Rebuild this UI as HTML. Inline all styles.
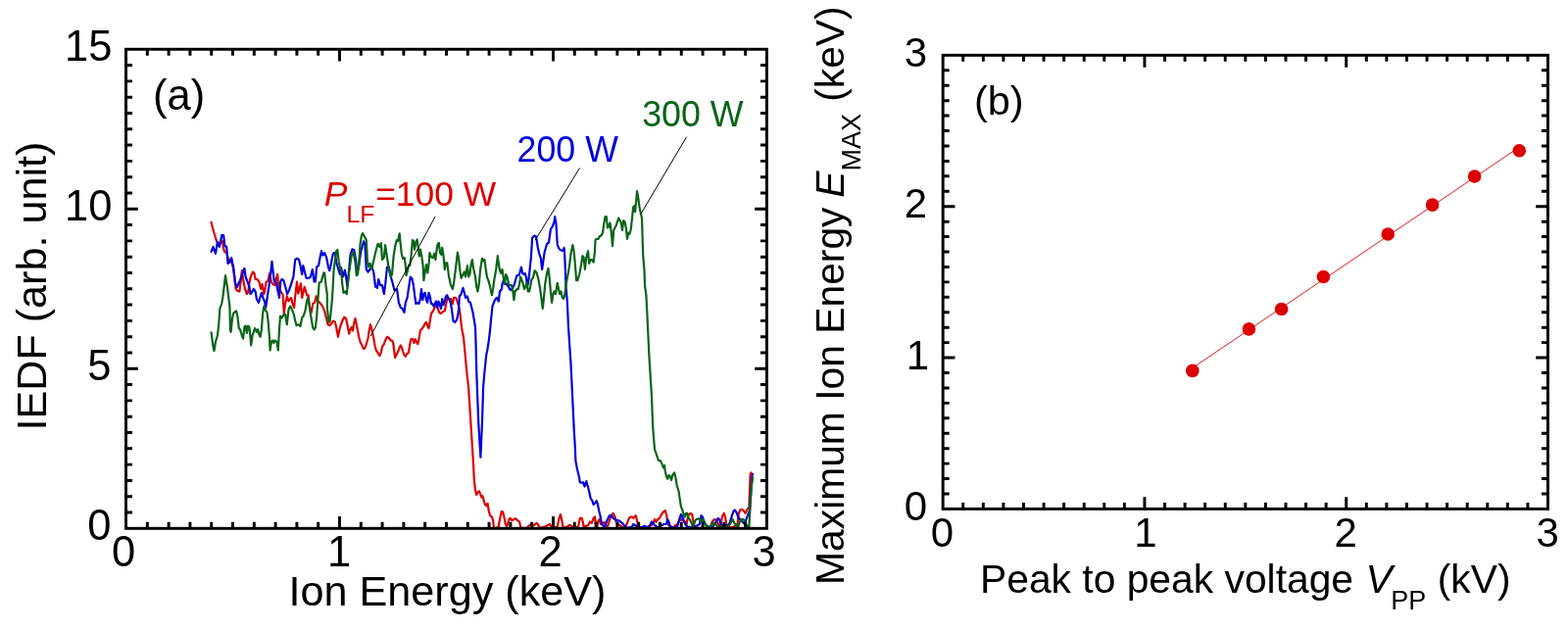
<!DOCTYPE html>
<html><head><meta charset="utf-8"><title>IEDF and maximum ion energy</title>
<style>
html,body{margin:0;padding:0;background:#fff;}
svg{display:block;}
text{font-family:"Liberation Sans",Arial,Helvetica,sans-serif;}
</style></head><body>
<svg width="1600" height="644" viewBox="0 0 1600 644">
<rect width="1600" height="644" fill="#fff"/>
<g fill="none" stroke-width="2.2" stroke-linejoin="round" stroke-linecap="round">
<path stroke="#dc0000" d="M215.6 226.9 216.9 232.5 218.8 238.8 220.6 245.0 222.5 248.8 225.0 246.9 226.9 246.2 228.1 253.8 229.4 257.5 231.2 257.5 232.5 262.5 234.4 266.2 236.2 267.5 238.1 273.8 239.4 283.8 240.6 295.0 242.5 296.9 244.4 297.5 245.6 287.5 246.9 276.2 248.1 285.0 250.0 295.0 251.9 300.0 253.1 298.8 254.4 288.8 256.2 281.2 258.1 277.5 259.4 278.8 260.6 285.0 262.5 285.0 264.4 287.5 266.2 295.0 267.5 290.0 269.4 300.0 270.0 297.8 271.7 287.6 273.4 286.7 275.1 279.0 276.8 287.6 278.5 290.1 280.2 291.0 283.2 279.9 283.8 288.5 285.1 295.4 286.8 297.9 288.5 300.5 289.8 319.3 291.1 309.9 292.8 302.2 294.5 307.3 297.1 303.9 298.3 309.0 300.1 314.1 301.3 301.3 303.0 287.7 304.3 299.6 305.6 294.5 306.9 289.4 308.2 303.9 309.4 298.8 310.7 292.8 312.0 297.1 313.3 301.3 314.6 301.3 315.8 312.4 317.6 319.3 319.3 309.9 321.0 309.0 322.7 302.2 324.0 307.3 325.7 308.2 327.8 310.7 329.5 313.3 331.2 317.6 332.9 324.4 334.6 331.2 336.3 332.1 338.0 330.4 339.7 327.8 340.6 327.5 341.9 328.8 343.1 333.8 345.0 343.8 346.2 337.5 347.5 332.5 349.4 327.5 351.2 323.8 353.1 325.0 354.4 331.2 356.2 340.6 357.5 336.2 358.8 333.8 360.0 337.5 361.2 330.0 362.5 325.0 363.8 331.2 365.0 337.5 366.2 343.8 367.5 348.8 369.4 352.5 371.2 356.2 372.5 355.0 373.8 351.2 375.6 345.0 376.9 336.2 378.1 331.2 379.4 336.2 381.2 345.0 382.5 352.5 383.8 357.5 385.6 360.0 387.5 363.1 388.8 360.0 390.0 353.8 391.9 351.2 393.1 347.5 395.0 343.8 396.9 345.0 398.8 347.5 400.0 347.5 401.2 350.0 402.5 360.0 403.1 365.0 406.2 358.8 407.5 355.0 408.8 352.5 410.0 355.0 411.2 358.8 412.5 362.5 413.8 363.8 415.0 361.2 416.9 360.0 418.1 352.5 419.4 346.2 421.2 346.2 422.5 350.0 423.8 346.2 425.0 348.8 426.2 351.2 427.5 346.2 428.8 337.5 430.0 336.2 431.9 333.8 433.8 330.0 435.0 328.8 436.2 332.5 437.5 335.0 438.8 327.5 440.0 320.0 441.9 317.5 443.1 315.0 444.4 310.0 445.6 312.5 446.9 315.0 448.1 318.8 449.4 320.0 451.2 318.8 452.5 317.5 453.8 317.5 455.0 311.2 456.2 305.0 457.5 303.8 458.8 306.2 460.0 305.0 461.9 310.0 463.1 303.8 465.0 303.8 466.2 306.2 468.8 315.0 470.0 325.0 471.2 335.0 473.1 345.0 474.4 358.8 475.6 372.5 476.9 385.0 478.1 395.0 483.1 475.0 483.8 490.0 485.0 500.0 486.2 505.0 487.5 502.5 488.8 501.2 490.0 503.8 491.2 507.5 492.5 506.2 493.8 511.2 495.0 515.0 496.2 516.2 497.5 513.8 498.8 521.2 500.0 526.2 501.9 527.5 503.1 531.2 503.8 537.5 505.0 539.0 506.2 538.8 508.8 537.5 510.0 530.0 511.9 521.9 513.1 522.5 514.4 527.5 515.6 533.8 516.9 537.5 518.1 535.0 519.4 530.0 520.6 528.8 522.5 531.2 524.4 530.0 526.2 529.4 528.1 531.2 530.0 532.5 531.2 537.5 532.5 538.8 537.5 538.8 540.0 536.2 542.5 535.0 545.0 536.2 547.5 533.8 548.8 535.0 550.0 537.5 551.2 538.8 556.2 537.5 558.8 536.2 561.2 535.0 562.5 537.5 565.0 538.8 568.8 537.5 570.6 528.8 571.9 525.0 573.1 530.0 574.4 537.5 576.2 538.8 578.8 537.5 580.6 536.2 582.5 536.2 583.8 537.5 585.0 538.8 590.0 537.5 591.9 528.8 593.8 528.8 595.0 533.8 595.6 537.5 597.5 536.9 600.0 536.2 601.9 532.5 603.8 533.8 605.6 528.8 606.9 527.5 608.1 536.2 609.4 537.5 610.6 531.2 611.9 530.0 613.1 535.0 615.0 533.8 616.9 533.1 618.1 536.2 620.0 537.5 621.9 531.2 623.8 526.2 625.6 523.8 627.5 527.5 628.8 532.5 630.6 535.0 632.5 536.2 634.4 537.5 636.2 538.8 638.1 537.5 640.0 533.8 641.9 528.8 643.8 527.5 645.0 527.5 646.2 528.8 647.5 527.5 648.8 526.2 650.0 531.2 651.2 537.5 653.8 538.8 660.0 538.5 666.2 535.0 668.1 530.0 669.4 532.5 671.2 530.0 673.1 528.8 675.0 525.0 676.9 522.5 678.8 521.2 680.0 525.0 681.2 532.5 682.5 536.2 685.0 537.5 687.5 538.8 688.8 536.2 690.6 536.2 692.5 532.5 695.0 530.0 696.9 531.2 698.8 532.5 700.6 535.0 701.9 527.5 703.1 525.0 704.4 523.8 706.2 525.0 707.5 532.5 708.8 537.5 712.5 538.8 720.0 538.5 725.0 537.5 726.2 533.8 727.5 531.2 729.4 530.0 731.2 531.2 732.5 533.8 733.8 537.5 735.0 536.2 736.9 527.5 738.8 523.8 740.0 527.5 741.2 535.0 743.1 537.5 747.5 538.5 752.5 535.0 753.8 523.8 755.6 520.0 757.5 520.0 758.8 521.2 760.6 523.8 762.5 520.0 764.4 517.5 765.6 483.8 766.5 482.5"/>
<path stroke="#0000dc" d="M215.6 256.9 217.5 251.9 220.0 258.8 221.9 246.9 223.8 251.9 225.0 247.5 226.2 240.0 228.1 240.0 229.4 251.2 231.2 251.9 232.5 268.8 234.4 267.5 236.2 263.1 238.1 272.5 240.0 288.8 241.9 293.1 243.1 290.0 245.0 286.2 247.5 278.8 249.4 273.8 250.6 282.5 252.5 287.5 254.4 292.5 255.6 300.0 257.5 297.5 258.8 295.0 260.6 297.5 261.9 305.0 263.8 308.8 265.0 305.0 266.9 298.8 268.8 305.0 270.0 307.5 271.2 313.8 272.5 305.0 273.8 296.2 274.4 292.5 276.2 278.8 277.5 266.9 278.8 278.8 280.0 287.5 281.9 288.8 283.1 295.0 285.0 303.8 286.2 287.5 287.5 285.0 289.4 286.2 291.2 292.5 293.1 300.0 295.0 296.2 297.5 288.8 299.4 282.5 301.2 265.0 303.1 263.8 305.0 265.0 306.9 272.5 308.1 280.0 309.4 271.2 311.2 278.8 312.5 283.8 315.0 283.8 316.9 282.5 318.8 275.0 320.6 287.5 321.9 287.5 323.1 272.5 325.0 271.2 326.9 261.2 328.1 256.2 329.4 260.6 331.2 258.1 333.1 262.5 335.0 272.5 336.2 276.2 337.5 271.2 339.4 260.6 340.6 258.1 341.9 258.1 343.1 267.5 345.0 273.8 346.9 280.0 348.1 273.1 350.0 282.5 351.9 275.6 353.1 282.5 354.4 292.5 355.6 281.2 357.5 260.0 359.4 254.4 361.2 255.0 363.1 265.0 364.4 278.8 366.2 271.2 368.1 257.5 370.0 250.0 371.2 246.2 372.5 250.0 373.8 275.0 375.6 277.5 377.5 275.0 379.4 272.5 381.2 277.5 383.1 292.5 385.0 293.8 386.2 285.0 388.1 291.2 390.0 291.2 391.9 300.0 393.1 291.2 395.0 272.5 396.9 272.5 398.8 282.5 400.6 288.8 402.5 296.2 405.0 295.0 405.6 298.8 406.9 308.8 408.8 313.8 410.6 315.0 412.5 318.8 413.8 308.8 415.6 303.8 416.9 295.0 418.8 282.5 420.6 285.0 421.9 291.2 423.1 301.2 424.4 310.0 426.2 308.8 427.5 310.0 428.8 305.0 430.0 295.0 431.2 306.2 432.5 300.0 433.8 298.8 435.0 306.2 436.2 308.8 437.5 298.8 438.8 302.5 440.0 310.0 441.2 310.0 442.5 312.5 443.8 310.0 445.0 307.5 446.2 313.8 447.5 307.5 448.8 311.2 450.0 315.0 451.2 305.0 452.5 311.2 453.8 307.5 455.0 302.5 456.2 301.2 457.5 305.0 458.8 306.2 460.0 310.0 461.2 317.5 462.5 327.5 464.4 328.8 466.2 326.2 467.5 320.0 468.1 315.0 468.8 302.5 470.6 300.0 472.5 293.8 473.8 298.8 475.0 303.8 476.9 302.5 478.1 307.5 480.0 308.8 481.2 313.8 482.5 318.8 483.1 322.5 485.0 333.8 485.6 352.5 486.2 377.5 488.2 431.0 490.4 466.6 492.0 431.0 493.1 395.0 494.4 380.0 496.2 362.5 497.5 356.2 498.8 347.5 500.0 337.5 501.2 325.0 502.5 312.5 505.0 306.2 506.9 303.8 508.8 307.5 510.0 297.5 511.9 295.0 512.5 290.0 513.8 286.2 515.0 288.8 516.9 290.0 518.8 292.5 520.0 295.0 521.2 296.2 523.1 293.8 525.0 290.0 526.2 285.0 527.5 281.2 529.4 281.2 530.6 277.5 531.9 272.5 533.1 278.8 534.4 280.0 535.6 278.8 536.9 282.5 538.1 292.5 539.4 286.2 540.6 275.0 541.9 262.5 543.1 243.0 545.0 240.6 546.9 241.2 548.1 247.5 548.8 252.5 550.0 258.0 551.9 263.8 553.1 275.0 554.4 266.2 555.6 257.5 556.9 253.0 558.1 248.8 560.0 247.5 561.9 233.8 563.8 231.2 565.6 226.2 566.2 221.2 567.5 228.8 568.8 250.0 570.6 254.0 572.5 255.5 574.4 256.0 575.6 253.0 576.2 260.0 576.9 276.2 577.5 292.5 578.8 307.5 580.0 333.8 581.2 352.5 582.5 371.2 585.8 440.0 586.8 456.3 587.4 470.4 589.0 479.1 591.2 487.8 591.7 492.2 593.4 492.7 595.0 492.2 596.6 496.5 598.3 491.1 599.9 496.5 601.5 503.0 602.6 508.5 604.4 511.2 605.6 515.0 606.9 513.8 608.8 511.2 610.0 515.0 611.2 521.2 612.5 526.2 613.8 533.8 615.0 536.2 616.9 537.5 618.1 535.0 619.4 531.2 620.6 528.8 621.9 526.2 623.8 526.2 625.6 528.8 627.5 530.0 629.4 531.2 631.2 531.2 633.1 532.5 635.0 533.8 636.9 536.2 638.8 538.1 641.9 538.5 645.0 537.5 646.2 535.0 648.1 536.2 650.0 537.5 652.5 538.5 655.0 538.1 657.5 536.9 659.4 537.5 661.9 538.1 663.8 535.0 665.0 532.5 666.2 533.8 668.1 536.2 670.0 537.5 672.5 538.1 675.0 536.2 677.5 535.0 680.0 535.0 681.2 530.0 682.5 532.5 683.8 537.5 687.5 538.5 691.2 537.5 693.1 530.0 695.0 525.0 696.9 528.8 698.1 532.5 700.0 536.2 701.9 537.5 707.5 538.5 713.8 535.0 715.6 526.2 716.9 527.5 718.8 533.8 720.6 536.2 722.5 537.5 725.0 538.5 727.5 537.5 730.0 533.8 731.2 531.2 733.1 528.8 734.4 531.2 735.6 535.0 737.5 536.9 740.0 536.2 742.5 536.2 743.8 535.0 745.0 532.5 746.9 526.2 748.8 521.2 750.0 520.6 751.9 523.8 753.1 527.5 755.0 530.0 757.5 532.5 760.0 535.0 761.9 528.8 763.8 523.8 765.0 521.2 766.2 502.5 767.5 485.0 768.1 483.8"/>
<path stroke="#0a6419" d="M215.6 339.4 217.5 353.8 218.5 358.1 220.0 348.8 221.9 342.5 223.1 332.5 224.4 315.0 226.2 310.0 227.5 302.5 230.0 281.2 231.9 292.5 233.1 302.5 234.4 312.5 235.0 337.5 235.6 338.8 236.9 326.2 238.1 320.0 240.0 318.1 241.2 317.5 242.5 323.8 243.8 335.0 245.0 336.2 246.9 342.5 248.1 345.6 249.4 333.8 250.6 332.5 251.9 340.0 253.1 332.5 254.4 333.8 255.6 345.0 256.2 352.5 257.5 342.5 258.8 338.8 260.0 335.0 261.9 338.8 263.1 336.2 264.4 341.2 265.6 343.8 266.9 336.2 268.1 320.0 269.4 312.5 270.6 316.2 272.5 318.8 273.8 330.0 275.0 345.0 275.6 357.5 276.9 348.8 278.1 347.5 279.4 350.0 280.6 347.5 282.5 348.8 283.8 357.5 285.1 334.6 286.0 322.7 287.7 324.4 289.4 321.0 291.1 321.0 292.8 331.2 294.5 315.8 296.2 312.4 297.9 315.8 299.6 320.1 301.3 327.8 302.6 332.1 304.8 331.2 306.5 332.9 308.2 324.4 309.9 321.8 311.6 316.7 312.9 308.2 314.1 303.9 315.4 309.9 316.7 319.3 318.4 329.5 319.3 334.6 320.5 336.3 321.8 334.6 323.1 324.4 324.4 305.6 325.7 288.5 327.8 287.7 329.5 280.9 330.4 278.3 331.2 278.8 332.5 291.2 333.8 300.0 333.8 314.1 335.5 328.6 336.7 327.8 338.9 305.6 339.7 292.8 340.6 275.0 341.9 266.2 343.1 256.2 344.4 255.0 345.6 266.2 346.9 272.5 348.1 277.5 349.4 291.2 350.6 298.8 352.5 297.5 353.8 300.0 355.0 290.0 356.2 277.5 357.5 268.8 358.8 260.0 360.6 257.5 362.5 267.5 363.8 281.2 365.0 280.0 366.2 270.0 367.5 250.0 368.8 241.2 370.0 238.1 371.9 241.2 373.8 245.0 375.0 267.5 376.2 272.5 377.5 268.8 379.4 274.4 381.2 266.2 383.8 255.0 385.6 248.8 387.5 251.9 388.8 248.1 390.0 265.0 391.9 262.5 393.1 250.0 395.0 262.5 396.9 275.0 398.8 282.5 400.0 280.0 401.7 260.6 403.4 250.4 404.7 245.2 406.0 246.1 407.7 238.4 408.5 246.9 409.8 258.9 411.1 264.0 412.8 263.2 414.1 273.4 414.5 281.1 415.8 276.8 417.1 270.8 418.3 270.8 419.6 260.6 420.9 245.2 422.2 246.1 423.0 254.6 424.3 247.8 425.6 244.4 426.9 253.8 427.7 261.5 429.0 254.6 430.3 261.5 431.6 270.8 432.4 286.2 433.7 277.7 435.0 270.0 436.3 278.5 437.6 269.1 438.4 258.0 440.1 262.3 441.8 263.2 443.1 258.9 444.4 264.9 445.2 258.0 446.5 249.5 447.8 247.8 449.1 258.0 450.4 259.8 451.2 252.9 452.5 260.6 453.8 275.1 455.0 268.3 456.3 268.3 458.0 281.9 459.7 289.6 460.6 292.5 461.9 295.0 463.1 288.8 465.0 273.8 466.9 257.5 468.1 263.8 469.4 276.2 470.6 283.8 471.9 281.2 473.8 277.5 475.0 282.5 476.9 271.2 478.1 282.5 479.4 280.0 480.6 270.0 481.9 265.0 483.1 273.8 485.0 282.5 486.2 292.5 487.5 297.5 488.8 290.0 490.0 276.2 491.9 263.8 493.1 266.2 494.4 265.0 495.6 273.8 496.9 282.5 498.8 287.5 500.6 295.0 501.9 301.2 503.1 295.0 504.4 285.0 506.2 275.0 507.8 261.2 508.8 268.8 510.0 276.2 511.2 278.8 512.5 275.0 513.8 283.8 515.0 290.0 516.2 280.0 517.5 282.5 518.8 288.8 520.0 291.2 521.9 291.2 523.1 295.0 524.4 306.2 525.6 297.5 527.5 295.0 528.8 295.0 530.0 290.0 531.2 282.5 532.5 286.2 533.8 290.0 535.0 295.0 536.2 292.5 537.5 288.8 538.8 297.5 540.0 297.5 541.2 292.5 542.5 285.0 543.8 283.8 545.6 276.2 547.5 278.1 549.4 285.0 551.2 295.0 552.5 305.0 553.8 315.0 555.0 303.8 556.2 290.0 558.1 278.8 559.4 273.8 560.6 282.5 561.9 297.5 563.1 308.8 564.4 300.0 565.6 297.5 566.9 300.0 568.8 288.8 570.0 295.0 571.2 300.0 572.5 297.5 573.8 303.8 575.0 305.0 576.2 301.2 577.5 291.2 578.8 283.8 580.0 277.5 581.2 270.0 582.5 258.8 584.4 250.0 585.6 256.2 586.9 270.0 588.1 286.2 589.4 286.2 591.2 280.0 593.1 270.0 594.4 261.2 595.6 262.5 596.9 275.0 598.1 263.8 600.0 256.2 601.2 268.8 602.5 265.0 603.8 265.0 605.6 267.5 606.9 257.5 607.5 245.0 608.8 243.8 610.6 243.8 611.9 241.2 613.8 240.0 615.0 237.5 616.2 228.8 617.5 221.2 618.8 221.2 620.0 232.5 621.2 231.2 622.5 227.5 623.8 237.5 625.0 251.2 626.2 235.0 627.5 232.5 628.8 230.0 630.0 226.2 631.2 222.5 632.5 225.0 633.8 227.5 635.0 235.0 636.2 225.0 637.5 226.2 638.8 232.5 640.0 243.8 641.2 237.5 642.5 238.8 643.8 233.8 645.0 222.5 646.2 211.2 647.5 210.0 648.1 216.2 649.4 202.5 650.0 195.0 651.2 201.2 652.5 211.2 653.8 217.5 655.0 222.5 656.2 261.2 657.5 276.2 658.1 292.5 659.4 301.2 660.6 325.0 662.5 365.0 665.0 405.0 666.2 436.2 667.5 452.5 668.1 458.8 669.4 462.5 670.6 466.2 671.9 470.0 673.8 470.0 675.6 473.8 676.9 477.5 678.1 475.0 678.8 481.2 680.0 486.2 681.2 488.8 682.5 485.0 683.8 486.2 685.0 490.0 686.2 485.0 688.1 482.5 689.4 487.5 690.6 495.0 692.5 501.2 693.8 510.0 695.0 517.5 696.2 520.0 697.5 525.0 698.8 527.5 700.0 523.8 701.2 523.8 702.5 528.8 703.8 530.0 705.6 533.8 706.9 537.5 708.1 535.0 709.4 531.2 710.6 530.0 712.5 529.4 714.4 530.0 715.6 532.5 716.9 530.0 718.8 532.5 720.0 535.0 721.2 537.5 723.8 538.1 726.2 536.2 727.5 533.8 729.4 533.8 731.2 536.2 732.5 537.5 742.5 537.5 745.0 535.0 747.5 530.0 749.4 533.8 751.2 536.2 753.1 537.5 755.0 532.5 756.9 530.0 758.8 530.0 760.0 532.5 761.9 536.2 764.4 537.5 765.6 515.0 766.9 496.2 768.1 487.5"/>
</g>
<rect x="128.55" y="50.27" width="653.88" height="489.03" fill="none" stroke="#000" stroke-width="2.95"/>
<path d="M346.51 539.3v-12.3M346.51 50.27v12.3M564.47 539.3v-12.3M564.47 50.27v12.3M150.35 539.3v-6.5M150.35 50.27v6.5M172.14 539.3v-6.5M172.14 50.27v6.5M193.94 539.3v-6.5M193.94 50.27v6.5M215.73 539.3v-6.5M215.73 50.27v6.5M237.53 539.3v-6.5M237.53 50.27v6.5M259.33 539.3v-6.5M259.33 50.27v6.5M281.12 539.3v-6.5M281.12 50.27v6.5M302.92 539.3v-6.5M302.92 50.27v6.5M324.71 539.3v-6.5M324.71 50.27v6.5M368.31 539.3v-6.5M368.31 50.27v6.5M390.1 539.3v-6.5M390.1 50.27v6.5M411.9 539.3v-6.5M411.9 50.27v6.5M433.69 539.3v-6.5M433.69 50.27v6.5M455.49 539.3v-6.5M455.49 50.27v6.5M477.29 539.3v-6.5M477.29 50.27v6.5M499.08 539.3v-6.5M499.08 50.27v6.5M520.88 539.3v-6.5M520.88 50.27v6.5M542.67 539.3v-6.5M542.67 50.27v6.5M586.27 539.3v-6.5M586.27 50.27v6.5M608.06 539.3v-6.5M608.06 50.27v6.5M629.86 539.3v-6.5M629.86 50.27v6.5M651.65 539.3v-6.5M651.65 50.27v6.5M673.45 539.3v-6.5M673.45 50.27v6.5M695.25 539.3v-6.5M695.25 50.27v6.5M717.04 539.3v-6.5M717.04 50.27v6.5M738.84 539.3v-6.5M738.84 50.27v6.5M760.63 539.3v-6.5M760.63 50.27v6.5M128.55 376.29h12.3M782.43 376.29h-12.3M128.55 213.28h12.3M782.43 213.28h-12.3M128.55 523h6.5M782.43 523h-6.5M128.55 506.7h6.5M782.43 506.7h-6.5M128.55 490.4h6.5M782.43 490.4h-6.5M128.55 474.1h6.5M782.43 474.1h-6.5M128.55 457.79h6.5M782.43 457.79h-6.5M128.55 441.49h6.5M782.43 441.49h-6.5M128.55 425.19h6.5M782.43 425.19h-6.5M128.55 408.89h6.5M782.43 408.89h-6.5M128.55 392.59h6.5M782.43 392.59h-6.5M128.55 359.99h6.5M782.43 359.99h-6.5M128.55 343.69h6.5M782.43 343.69h-6.5M128.55 327.39h6.5M782.43 327.39h-6.5M128.55 311.09h6.5M782.43 311.09h-6.5M128.55 294.78h6.5M782.43 294.78h-6.5M128.55 278.48h6.5M782.43 278.48h-6.5M128.55 262.18h6.5M782.43 262.18h-6.5M128.55 245.88h6.5M782.43 245.88h-6.5M128.55 229.58h6.5M782.43 229.58h-6.5M128.55 196.98h6.5M782.43 196.98h-6.5M128.55 180.68h6.5M782.43 180.68h-6.5M128.55 164.38h6.5M782.43 164.38h-6.5M128.55 148.08h6.5M782.43 148.08h-6.5M128.55 131.77h6.5M782.43 131.77h-6.5M128.55 115.47h6.5M782.43 115.47h-6.5M128.55 99.17h6.5M782.43 99.17h-6.5M128.55 82.87h6.5M782.43 82.87h-6.5M128.55 66.57h6.5M782.43 66.57h-6.5" stroke="#000" stroke-width="2.95" fill="none"/>
<rect x="962.16" y="56.35" width="617.34" height="463.08" fill="none" stroke="#000" stroke-width="2.95"/>
<path d="M1167.94 519.43v-12.3M1167.94 56.35v12.3M1373.72 519.43v-12.3M1373.72 56.35v12.3M982.74 519.43v-6.5M982.74 56.35v6.5M1003.32 519.43v-6.5M1003.32 56.35v6.5M1023.89 519.43v-6.5M1023.89 56.35v6.5M1044.47 519.43v-6.5M1044.47 56.35v6.5M1065.05 519.43v-6.5M1065.05 56.35v6.5M1085.63 519.43v-6.5M1085.63 56.35v6.5M1106.21 519.43v-6.5M1106.21 56.35v6.5M1126.78 519.43v-6.5M1126.78 56.35v6.5M1147.36 519.43v-6.5M1147.36 56.35v6.5M1188.52 519.43v-6.5M1188.52 56.35v6.5M1209.1 519.43v-6.5M1209.1 56.35v6.5M1229.67 519.43v-6.5M1229.67 56.35v6.5M1250.25 519.43v-6.5M1250.25 56.35v6.5M1270.83 519.43v-6.5M1270.83 56.35v6.5M1291.41 519.43v-6.5M1291.41 56.35v6.5M1311.99 519.43v-6.5M1311.99 56.35v6.5M1332.56 519.43v-6.5M1332.56 56.35v6.5M1353.14 519.43v-6.5M1353.14 56.35v6.5M1394.3 519.43v-6.5M1394.3 56.35v6.5M1414.88 519.43v-6.5M1414.88 56.35v6.5M1435.45 519.43v-6.5M1435.45 56.35v6.5M1456.03 519.43v-6.5M1456.03 56.35v6.5M1476.61 519.43v-6.5M1476.61 56.35v6.5M1497.19 519.43v-6.5M1497.19 56.35v6.5M1517.77 519.43v-6.5M1517.77 56.35v6.5M1538.34 519.43v-6.5M1538.34 56.35v6.5M1558.92 519.43v-6.5M1558.92 56.35v6.5M962.16 365.07h12.3M1579.5 365.07h-12.3M962.16 210.71h12.3M1579.5 210.71h-12.3M962.16 503.99h6.5M1579.5 503.99h-6.5M962.16 488.56h6.5M1579.5 488.56h-6.5M962.16 473.12h6.5M1579.5 473.12h-6.5M962.16 457.69h6.5M1579.5 457.69h-6.5M962.16 442.25h6.5M1579.5 442.25h-6.5M962.16 426.81h6.5M1579.5 426.81h-6.5M962.16 411.38h6.5M1579.5 411.38h-6.5M962.16 395.94h6.5M1579.5 395.94h-6.5M962.16 380.51h6.5M1579.5 380.51h-6.5M962.16 349.63h6.5M1579.5 349.63h-6.5M962.16 334.2h6.5M1579.5 334.2h-6.5M962.16 318.76h6.5M1579.5 318.76h-6.5M962.16 303.33h6.5M1579.5 303.33h-6.5M962.16 287.89h6.5M1579.5 287.89h-6.5M962.16 272.45h6.5M1579.5 272.45h-6.5M962.16 257.02h6.5M1579.5 257.02h-6.5M962.16 241.58h6.5M1579.5 241.58h-6.5M962.16 226.15h6.5M1579.5 226.15h-6.5M962.16 195.27h6.5M1579.5 195.27h-6.5M962.16 179.84h6.5M1579.5 179.84h-6.5M962.16 164.4h6.5M1579.5 164.4h-6.5M962.16 148.97h6.5M1579.5 148.97h-6.5M962.16 133.53h6.5M1579.5 133.53h-6.5M962.16 118.09h6.5M1579.5 118.09h-6.5M962.16 102.66h6.5M1579.5 102.66h-6.5M962.16 87.22h6.5M1579.5 87.22h-6.5M962.16 71.79h6.5M1579.5 71.79h-6.5" stroke="#000" stroke-width="2.95" fill="none"/>
<path d="M1216.8 375.51 L1550.3 150.20" stroke="#dc1a1a" stroke-width="1.0" fill="none"/>
<g fill="#dc0000"><circle cx="1216.8" cy="378.4" r="6.8"/><circle cx="1274.4" cy="335.9" r="6.8"/><circle cx="1307.6" cy="315.5" r="6.8"/><circle cx="1350.4" cy="282.5" r="6.8"/><circle cx="1416.2" cy="239.0" r="6.8"/><circle cx="1461.6" cy="209.1" r="6.8"/><circle cx="1504.6" cy="180.0" r="6.8"/><circle cx="1550.3" cy="153.8" r="6.8"/></g>
<g font-size="43.5" fill="#000">
<text x="114.5" y="61.6" text-anchor="end">15</text>
<text x="114.5" y="224.9" text-anchor="end">10</text>
<text x="113.5" y="387.9" text-anchor="end">5</text>
<text x="113.5" y="551.3" text-anchor="end">0</text>
<text x="126" y="577.7" text-anchor="middle">0</text>
<text x="346" y="577.7" text-anchor="middle">1</text>
<text x="561.7" y="577.7" text-anchor="middle">2</text>
<text x="779.7" y="577.7" text-anchor="middle">3</text>
<text x="156" y="112.2">(a)</text>
<text x="294.4" y="617.8" font-size="43.2">Ion Energy (keV)</text>
<text transform="translate(46.6,0) rotate(-90)" x="-439.5" y="0" font-size="43.15">IEDF (arb. unit)</text>
</g>
<g font-size="42" fill="#000">
<text x="946" y="68.15" text-anchor="end">3</text>
<text x="946" y="222.4" text-anchor="end">2</text>
<text x="948" y="376.65" text-anchor="end">1</text>
<text x="946" y="530.9" text-anchor="end">0</text>
<text x="961.5" y="557.7" text-anchor="middle">0</text>
<text x="1168.9" y="557.7" text-anchor="middle">1</text>
<text x="1373.2" y="557.7" text-anchor="middle">2</text>
<text x="1579.1" y="557.7" text-anchor="middle">3</text>
<text x="993.9" y="116.9" font-size="41.5">(b)</text>
</g>
<g font-size="40.8" fill="#000">
<text y="604.9"><tspan x="1000">Peak to peak voltage </tspan><tspan x="1393.5" font-style="italic">V</tspan><tspan x="1419.3" y="622.3" font-size="27">PP </tspan><tspan x="1466.7" y="604.9">(kV)</tspan></text>
<text transform="translate(860.5,0) rotate(-90)" y="0"><tspan x="-596.95">Maximum Ion Energy </tspan><tspan x="-201.76" font-style="italic">E</tspan><tspan x="-174.5" y="17.2" font-size="27">MAX </tspan><tspan x="-103.83" y="0">(keV)</tspan></text>
</g>
<g font-size="35.5">
<text fill="#dc0000"><tspan x="330.66" y="210.3" font-style="italic">P</tspan><tspan x="353.5" y="226.6" font-size="24.7">LF</tspan><tspan x="383.2" y="210.3" font-size="35.4">=100 W</tspan></text>
<text transform="translate(527.6,164.75) scale(1,1.055)" x="0" y="0" font-size="35.75" fill="#0000dc">200 W</text>
<text transform="translate(655.2,128.6) scale(1,1.05)" x="0" y="0" font-size="35.8" fill="#0a6419">300 W</text>
</g>
<path d="M444.1 221L378.1 343.2M591.6 171.4L546.2 245M700.6 139.7L654.2 217.8" stroke="#000" stroke-width="1" fill="none"/>
</svg>
</body></html>
